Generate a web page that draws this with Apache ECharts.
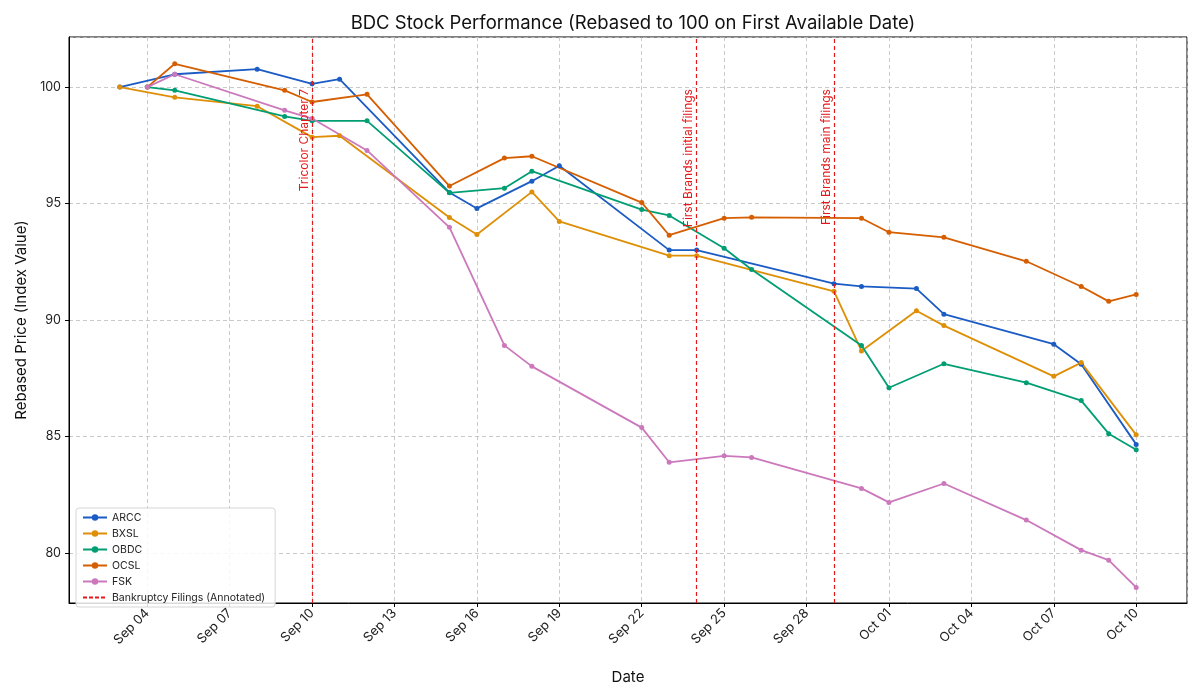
<!DOCTYPE html>
<html>
<head>
<meta charset="utf-8">
<title>BDC Stock Performance</title>
<script src="https://cdn.jsdelivr.net/npm/echarts@6/dist/echarts.min.js"></script>
<style>
  html, body { margin: 0; padding: 0; background: #fff; }
  #chart { width: 1200px; height: 700px; }
</style>
</head>
<body>
<div id="chart"></div>
<script>
// trading dates (two groups of tickers share the same sample dates)
const datesA = ['2025-09-03', '2025-09-05', '2025-09-08', '2025-09-10', '2025-09-11', '2025-09-15',
  '2025-09-16', '2025-09-18', '2025-09-19', '2025-09-23', '2025-09-24', '2025-09-29',
  '2025-09-30', '2025-10-02', '2025-10-03', '2025-10-07', '2025-10-08', '2025-10-10']
const datesB = ['2025-09-04', '2025-09-05', '2025-09-09', '2025-09-10', '2025-09-12', '2025-09-15',
  '2025-09-17', '2025-09-18', '2025-09-22', '2025-09-23', '2025-09-25', '2025-09-26',
  '2025-09-30', '2025-10-01', '2025-10-03', '2025-10-06', '2025-10-08', '2025-10-09', '2025-10-10']

// rebased prices
const arcc = [100, 100.55, 100.77, 100.14, 100.34, 95.47, 94.79, 95.96, 96.62, 93.0, 93.0, 91.56,
  91.44, 91.35, 90.25, 88.96, 88.10, 84.66]
const bxsl = [100, 99.56, 99.18, 97.85, 97.91, 94.40, 93.67, 95.50, 94.23, 92.76, 92.76, 91.23,
  88.67, 90.40, 89.76, 87.58, 88.17, 85.07]
const obdc = [100, 99.86, 98.74, 98.55, 98.55, 95.46, 95.66, 96.39, 94.74, 94.49, 93.08, 92.17,
  88.91, 87.09, 88.12, 87.31, 86.54, 85.12, 84.43]
const ocsl = [100, 101.0, 99.86, 99.36, 99.69, 95.75, 96.95, 97.03, 95.04, 93.64, 94.37, 94.41,
  94.37, 93.77, 93.55, 92.52, 91.44, 90.80, 91.10]
const fsk = [100, 100.55, 99.0, 98.65, 97.28, 93.98, 88.91, 88.01, 85.38, 83.89, 84.17, 84.10,
  82.77, 82.17, 82.98, 81.41, 80.12, 79.69, 78.52]

// bankruptcy filings
const filingDates = ['2025-09-10', '2025-09-24', '2025-09-29']
const filingLabels = ['Tricolor Chapter 7', 'First Brands initial filings', 'First Brands main filings']

const tickers = [
  { name: 'ARCC', dates: datesA, values: arcc, color: '#1a5bc4' },
  { name: 'BXSL', dates: datesA, values: bxsl, color: '#de8f05' },
  { name: 'OBDC', dates: datesB, values: obdc, color: '#029e73' },
  { name: 'OCSL', dates: datesB, values: ocsl, color: '#d55e00' },
  { name: 'FSK', dates: datesB, values: fsk, color: '#cc78bc' },
]

// x axis works in days since Sep 01
const DAY = 86400000
const base = Date.UTC(2025, 8, 1)
const toDay = (d) => (Date.parse(d) - base) / DAY
const MONTHS = ['Jan', 'Feb', 'Mar', 'Apr', 'May', 'Jun', 'Jul', 'Aug', 'Sep', 'Oct', 'Nov', 'Dec']
const fmtDay = (v) => {
  const dt = new Date(base + Math.round(v) * DAY)
  return MONTHS[dt.getUTCMonth()] + ' ' + String(dt.getUTCDate()).padStart(2, '0')
}

const yMin = 77.85
const yMax = 102.15
const FONT = 'Inter, "Noto Sans", sans-serif'
const RED = '#e31a1c'
const FILING = 'Bankruptcy Filings (Annotated)'

const series = tickers.map((t) => ({
  name: t.name,
  type: 'line',
  data: t.dates.map((d, i) => [toDay(d), t.values[i]]),
  symbol: 'circle',
  symbolSize: 5,
  showSymbol: true,
  color: t.color,
  lineStyle: { width: 1.8 },
  emphasis: { disabled: true },
  z: 3,
}))

// empty series carrying the vertical filing lines (also gives the legend entry)
series.push({
  name: FILING,
  type: 'line',
  data: [],
  symbol: 'none',
  color: RED,
  lineStyle: { type: [4, 2], width: 1.2, color: RED },
  markLine: {
    silent: true,
    symbol: 'none',
    animation: false,
    lineStyle: { type: [4, 3], width: 1.2, color: RED },
    label: { show: false },
    data: filingDates
      .map((d) => ({ xAxis: toDay(d) }))
      .concat(
        // label-only segments, ending at the 100 level
        filingDates.map((d, i) => [
          {
            coord: [toDay(d), yMin],
            lineStyle: { color: 'rgba(0,0,0,0)', width: 0 },
            label: {
              show: true,
              position: 'insideEndTop',
              formatter: filingLabels[i],
              color: RED,
              opacity: 1,
              fontFamily: FONT,
              fontSize: 12,
              distance: 2,
            },
          },
          { coord: [toDay(d), 100] },
        ])
      ),
  },
})

const chart = echarts.init(document.getElementById('chart'), null, { renderer: 'canvas' })
chart.setOption({
  animation: false,
  backgroundColor: '#fff',
  textStyle: { fontFamily: FONT },
  title: {
    text: 'BDC Stock Performance (Rebased to 100 on First Available Date)',
    left: 628,
    textAlign: 'center',
    top: 9,
    textStyle: { fontSize: 18.5, fontWeight: 'normal', color: '#111', fontFamily: FONT },
  },
  legend: {
    orient: 'vertical',
    left: 76,
    top: 508,
    itemWidth: 24,
    itemHeight: 8,
    itemGap: 5,
    padding: [4, 10, 4, 6],
    backgroundColor: 'rgba(255,255,255,0.85)',
    borderColor: '#d5d5d5',
    borderWidth: 1,
    borderRadius: 3,
    textStyle: { fontSize: 10.5, color: '#222', fontFamily: FONT },
    data: tickers
      .map((t) => t.name)
      .concat([{ name: FILING, itemStyle: { opacity: 0 } }]),
  },
  grid: {
    left: 69,
    right: 13,
    top: 37,
    bottom: 97,
    show: true,
    borderColor: '#000',
    borderWidth: 1,
    containLabel: false,
  },
  xAxis: {
    type: 'value',
    min: toDay('2025-09-01') + 0.15,
    max: toDay('2025-10-11') + 0.85,
    splitNumber: 12,
    name: 'Date',
    nameLocation: 'middle',
    nameGap: 67,
    nameTextStyle: { fontSize: 15, color: '#111', fontFamily: FONT },
    axisLine: { show: true, lineStyle: { color: '#000', width: 1 } },
    axisTick: { show: true, length: 4, lineStyle: { color: '#000' } },
    axisLabel: {
      rotate: 45,
      fontSize: 13,
      color: '#222',
      margin: 8,
      showMinLabel: false,
      showMaxLabel: false,
      formatter: fmtDay,
    },
    splitLine: { show: true, lineStyle: { color: '#bdbdbd', type: [4, 3], width: 0.8 } },
  },
  yAxis: {
    type: 'value',
    min: yMin,
    max: yMax,
    splitNumber: 5,
    name: 'Rebased Price (Index Value)',
    nameLocation: 'middle',
    nameGap: 40,
    nameTextStyle: { fontSize: 15, color: '#111', fontFamily: FONT },
    axisLine: { show: true, lineStyle: { color: '#000', width: 1 } },
    axisTick: { show: true, length: 4, lineStyle: { color: '#000' } },
    axisLabel: {
      fontSize: 12.5,
      color: '#222',
      margin: 8,
      showMinLabel: false,
      showMaxLabel: false,
      formatter: (v) => String(Math.round(v)),
    },
    splitLine: { show: true, lineStyle: { color: '#bdbdbd', type: [4, 3], width: 0.8 } },
  },
  series: series,
})
window.addEventListener('resize', chart.resize)
</script>
</body>
</html>
